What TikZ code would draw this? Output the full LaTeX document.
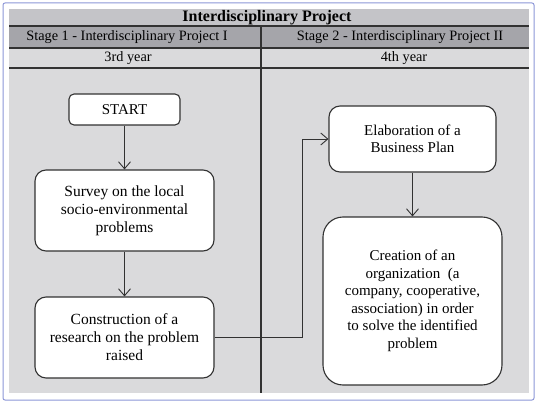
\documentclass[tikz,border=0pt]{standalone}
\usepackage{fontspec}
\setmainfont{Liberation Serif}
\usetikzlibrary{arrows.meta}
\definecolor{framebl}{RGB}{140,150,215}
\definecolor{rowgray}{RGB}{196,196,200}
\definecolor{stagegray}{RGB}{165,165,170}
\definecolor{panelgray}{RGB}{218,218,220}
\definecolor{inkgray}{RGB}{50,50,50}

\begin{document}
\begin{tikzpicture}[x=1pt,y=-1pt,
	stepbox/.style={draw=inkgray,line width=1.1pt,fill=white,align=center,
		font=\fontsize{15}{17.5}\selectfont,inner sep=0pt},
	headtext/.style={font=\fontsize{14.3}{16}\selectfont,inner sep=0pt},
	flow/.style={draw=inkgray,line width=0.9pt,-{Straight Barb[length=7pt,width=12pt]}}]
\useasboundingbox (0,0) rectangle (539,404);
% frame and panel
\draw [framebl,line width=1pt,rounded corners=2pt] (3,3) rectangle (534,400);
\fill [panelgray] (9,9) rectangle (529,393);
\fill [rowgray] (9,9) rectangle (529,26);
\fill [stagegray] (9,26) rectangle (529,48);
\foreach \y in {26,48,68}
	\draw [inkgray,line width=1.4pt] (9,\y) -- (529,\y);
\draw [inkgray,line width=1.4pt] (261,26) -- (261,393);
% header
\node [headtext,font=\fontsize{16}{16}\selectfont\bfseries] (title) at (267,17.5) {Interdisciplinary Project};
\node [headtext] (stage1) at (127,37) {Stage 1 - Interdisciplinary Project I};
\node [headtext] (stage2) at (400,37) {Stage 2 - Interdisciplinary Project II};
\node [headtext] (year3) at (128,58) {3rd year};
\node [headtext] (year4) at (404,58) {4th year};
% stage 1
\node [stepbox,rounded corners=5pt,minimum width=111pt,minimum height=31pt] (start) at (124.5,109.5) {START};
\node [stepbox,rounded corners=11pt,minimum width=179pt,minimum height=81pt,
	font=\fontsize{15.5}{18}\selectfont] (survey) at (124.5,210.5) {Survey on the local\\socio-environmental\\problems};
\node [stepbox,rounded corners=11pt,minimum width=179pt,minimum height=81pt,
	font=\fontsize{15.5}{18}\selectfont] (research) at (124.5,337.5) {Construction of a\\research on the problem\\raised};
% stage 2
\node [stepbox,rounded corners=11pt,minimum width=167pt,minimum height=66pt] (plan) at (412.5,139) {Elaboration of a\\Business Plan};
\node [stepbox,rounded corners=20pt,minimum width=179pt,minimum height=168pt] (org) at (412.5,301) {Creation of an\\organization~~(a\\company, cooperative,\\association) in order\\to solve the identified\\problem};
\coordinate (turn) at (302,337.5);
% connectors
\draw [flow] (start) -- (survey);
\draw [flow] (survey) -- (research);
\draw [flow] (research.east) -- (turn) |- (plan.west);
\draw [flow] (plan) -- (org);
\end{tikzpicture}
\end{document}
